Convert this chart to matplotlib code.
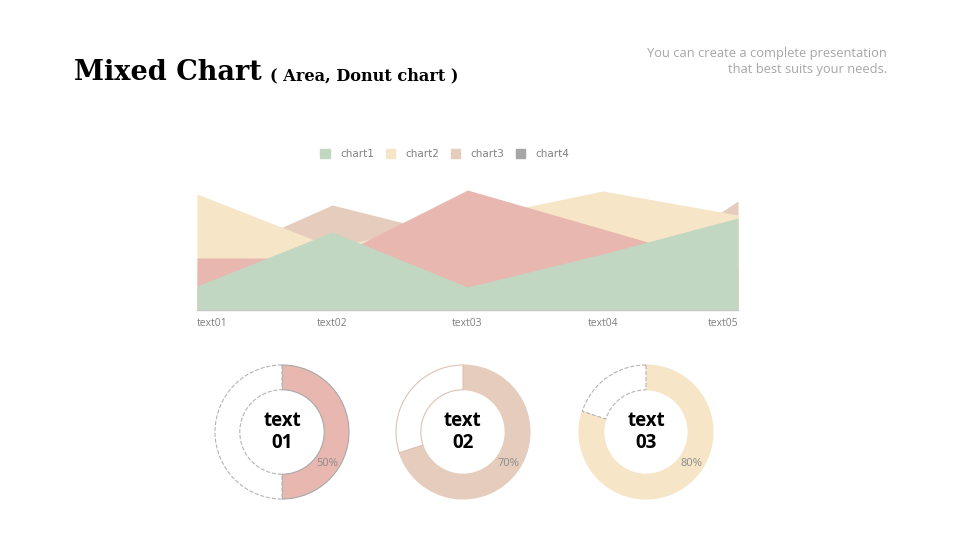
import matplotlib
matplotlib.use("Agg")
import matplotlib.pyplot as plt
from matplotlib.patches import Patch

# area chart data (drawn back to front: chart3, chart2, pink, chart1)
categories = ["text01", "text02", "text03", "text04", "text05"]
chart1 = [24, 78, 23, 56, 92]
chart2 = [116, 63, 91, 119, 95]
chart3 = [45, 105, 71, 20, 109]
chart4 = [52, 52, 120, 81, 42]

# donut data
donut_labels = ["01", "02", "03"]
donut_values = [50, 70, 80]

GREEN = "#c1d7c1"
YELLOW = "#f6e5c6"
TAN = "#e5ccbc"
PINK = "#e8b8b0"
GRAY = "#a6a6a6"

W, H = 960, 540
fig = plt.figure(figsize=(9.6, 5.4), dpi=100)
fig.patch.set_facecolor("white")


def fx(px):
    return px / W


def fy(py):
    return 1 - py / H


# title + subtitle
fig.text(fx(74), fy(80), "Mixed Chart", family="DejaVu Serif", weight="bold",
         fontsize=19.5, color="black", va="baseline")
fig.text(fx(270), fy(80), "( Area, Donut chart )", family="DejaVu Serif", weight="bold",
         fontsize=11.6, color="black", va="baseline")
fig.text(fx(887), fy(62), "You can create a complete presentation\nthat best suits your needs.",
         ha="right", va="center", fontsize=9.3, color="#a6a6a6", linespacing=1.3,
         family="Open Sans")

# area chart
ax = fig.add_axes([fx(197), fy(310), fx(738 - 197), (310 - 180) / H])
x = list(range(len(categories)))
ax.fill_between(x, 0, chart3, color=TAN, linewidth=0)
ax.fill_between(x, 0, chart2, color=YELLOW, linewidth=0)
ax.fill_between(x, 0, chart4, color=PINK, linewidth=0)
ax.fill_between(x, 0, chart1, color=GREEN, linewidth=0)
ax.set_xlim(0, len(categories) - 1)
ax.set_ylim(0, 130)
ax.set_xticks(x)
ax.set_xticklabels(categories, fontsize=7.5, color="#808080", family="Open Sans")
ticklabels = ax.get_xticklabels()
ticklabels[0].set_ha("left")
ticklabels[-1].set_ha("right")
ax.tick_params(axis="x", length=0, pad=6)
ax.set_yticks([])
for s in ["top", "left", "right"]:
    ax.spines[s].set_visible(False)
ax.spines["bottom"].set_color("#c8c8c8")
ax.spines["bottom"].set_linewidth(1)
ax.patch.set_alpha(0)

handles = [Patch(color=GREEN, label="chart1"), Patch(color=YELLOW, label="chart2"),
           Patch(color=TAN, label="chart3"), Patch(color=GRAY, label="chart4")]
leg = fig.legend(handles=handles, loc="center", bbox_to_anchor=(fx(445), fy(154)),
                 ncol=4, frameon=False, fontsize=7.5, handlelength=0.9, handleheight=0.9,
                 columnspacing=1.1, handletextpad=1.0)
for t in leg.get_texts():
    t.set_color("#808080")

# donuts
centers = [282, 463, 646]
fills = [PINK, TAN, YELLOW]
fill_edges = ["#a8a8a8", TAN, YELLOW]
rest_edges = ["#b4b4b4", "#dcc3b3", "#b4b4b4"]
rest_styles = ["--", "-", "--"]
R = 67
size = 2.1 * R
for cx, val, lab, fc, fe, re_, rs in zip(centers, donut_values, donut_labels,
                                          fills, fill_edges, rest_edges, rest_styles):
    dax = fig.add_axes([fx(cx - size / 2), fy(432 + size / 2), size / W, size / H])
    wedges, _ = dax.pie([val, 100 - val], startangle=90, counterclock=False, radius=1,
                        colors=[fc, "white"],
                        wedgeprops=dict(width=0.37, linewidth=0.8))
    wedges[0].set_edgecolor(fe)
    wedges[1].set_edgecolor(re_)
    wedges[1].set_linestyle(rs)
    dax.set_xlim(-1.05, 1.05)
    dax.set_ylim(-1.05, 1.05)
    dax.set_aspect("equal")
    dax.axis("off")
    dax.text(0, 0.17, "text", ha="center", va="center", fontsize=13.5, weight="bold",
             family="Open Sans")
    dax.text(0, -0.17, lab, ha="center", va="center", fontsize=13.5, weight="bold",
             family="Open Sans")
    dax.text(0.68, -0.47, f"{val}%", ha="center", va="center", fontsize=8,
             color="#8c8c8c", family="Open Sans")

fig.savefig("out.png", dpi=100, facecolor="white")
